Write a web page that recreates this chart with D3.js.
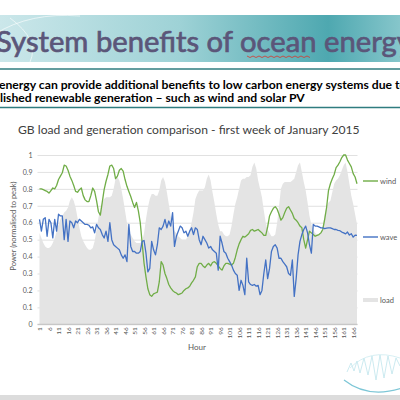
<!DOCTYPE html>
<html>
<head>
<meta charset="utf-8">
<script src="https://cdn.jsdelivr.net/npm/d3@7"></script>
<style>
  body { margin: 0; background: #fff; }
  svg { display: block; }
</style>
</head>
<body>
<svg id="slide" width="400" height="400"></svg>
<script>
// hours of the first week of January 2015
var hours = d3.range(1, 169);

// values, one row per day
var load = [
  0.54,0.51,0.48,0.46,0.45,0.45,0.46,0.48,0.51,0.55,0.59,0.62,0.64,0.66,0.67,0.69,0.73,0.75,0.73,0.69,0.63,0.57,0.52,0.49,
  0.47,0.45,0.44,0.44,0.45,0.49,0.56,0.63,0.68,0.72,0.74,0.75,0.75,0.75,0.76,0.80,0.86,0.87,0.85,0.80,0.74,0.67,0.60,0.54,
  0.53,0.51,0.49,0.48,0.48,0.48,0.49,0.54,0.62,0.69,0.74,0.77,0.77,0.76,0.76,0.79,0.85,0.87,0.84,0.78,0.71,0.64,0.58,0.55,
  0.54,0.52,0.51,0.50,0.50,0.50,0.52,0.56,0.60,0.66,0.74,0.77,0.79,0.79,0.79,0.81,0.86,0.885,0.85,0.78,0.72,0.65,0.59,0.55,
  0.55,0.53,0.52,0.52,0.53,0.58,0.65,0.71,0.75,0.80,0.85,0.86,0.86,0.87,0.87,0.88,0.93,0.955,0.92,0.85,0.80,0.75,0.67,0.60,
  0.56,0.54,0.52,0.52,0.53,0.60,0.70,0.80,0.83,0.84,0.84,0.84,0.84,0.85,0.86,0.90,0.94,0.955,0.90,0.84,0.79,0.72,0.64,0.59,
  0.56,0.54,0.53,0.53,0.54,0.58,0.65,0.70,0.72,0.73,0.78,0.83,0.85,0.86,0.88,0.91,0.94,0.955,0.90,0.83,0.76,0.71,0.65,0.59
];
var wind = [
  0.80,0.80,0.795,0.79,0.785,0.775,0.79,0.805,0.80,0.82,0.855,0.875,0.895,0.94,0.935,0.91,0.875,0.85,0.82,0.785,0.78,0.795,0.805,0.76,
  0.735,0.725,0.725,0.76,0.805,0.785,0.73,0.665,0.645,0.72,0.795,0.845,0.885,0.935,0.94,0.92,0.86,0.875,0.91,0.92,0.905,0.855,0.815,0.785,
  0.755,0.72,0.69,0.72,0.67,0.60,0.48,0.36,0.28,0.21,0.175,0.165,0.18,0.185,0.19,0.25,0.37,0.35,0.30,0.27,0.235,0.215,0.20,0.19,
  0.185,0.175,0.18,0.185,0.20,0.21,0.215,0.225,0.245,0.26,0.28,0.34,0.36,0.36,0.345,0.335,0.35,0.36,0.345,0.365,0.37,0.36,0.345,0.33,
  0.32,0.345,0.36,0.36,0.355,0.35,0.36,0.395,0.44,0.475,0.50,0.52,0.515,0.525,0.535,0.555,0.56,0.55,0.555,0.56,0.55,0.54,0.525,0.525,
  0.575,0.64,0.665,0.685,0.695,0.68,0.65,0.615,0.63,0.66,0.685,0.695,0.675,0.655,0.625,0.615,0.60,0.58,0.57,0.50,0.45,0.50,0.55,0.54,
  0.53,0.52,0.525,0.53,0.54,0.56,0.62,0.69,0.79,0.83,0.86,0.885,0.925,0.94,0.96,0.985,1.0,1.0,0.97,0.95,0.93,0.89,0.87,0.83
];
var wave = [
  0.62,0.55,0.62,0.63,0.52,0.62,0.60,0.51,0.62,0.55,0.65,0.64,0.64,0.50,0.62,0.49,0.61,0.60,0.57,0.61,0.60,0.62,0.61,0.60,
  0.59,0.59,0.585,0.57,0.575,0.54,0.59,0.57,0.56,0.53,0.51,0.55,0.49,0.60,0.50,0.47,0.46,0.45,0.44,0.41,0.39,0.41,0.37,0.59,
  0.46,0.43,0.43,0.42,0.42,0.43,0.49,0.495,0.42,0.31,0.33,0.49,0.44,0.41,0.47,0.57,0.56,0.58,0.62,0.57,0.61,0.58,0.66,0.46,
  0.52,0.55,0.58,0.57,0.54,0.55,0.52,0.55,0.57,0.53,0.57,0.56,0.50,0.47,0.52,0.50,0.48,0.45,0.46,0.44,0.43,0.42,0.32,0.52,
  0.48,0.43,0.42,0.39,0.37,0.35,0.32,0.30,0.29,0.20,0.26,0.23,0.175,0.39,0.25,0.235,0.23,0.235,0.225,0.23,0.175,0.20,0.30,0.38,
  0.27,0.33,0.43,0.46,0.47,0.45,0.39,0.39,0.37,0.355,0.34,0.30,0.29,0.38,0.165,0.27,0.41,0.49,0.53,0.56,0.58,0.54,0.47,0.42,
  0.59,0.58,0.58,0.575,0.57,0.57,0.565,0.568,0.57,0.57,0.565,0.56,0.56,0.555,0.553,0.545,0.54,0.534,0.545,0.527,0.535,0.515,0.527,0.525
];

var xTicks = d3.range(1, 167, 5);
var yTicks = [0, 0.1, 0.2, 0.3, 0.4, 0.5, 0.6, 0.7, 0.8, 0.9, 1];
var legendItems = ["wind", "wave", "load"];

var svg = d3.select("#slide");
var font = "Lato, 'Open Sans', sans-serif";

// scale a text's font size so it spans the given width
function fitWidth(sel, w) {
  var len = sel.node().getComputedTextLength();
  sel.attr("font-size", parseFloat(sel.attr("font-size")) * w / len);
}

/////////////////////////////////////////////////
// slide header
var defs = svg.append("defs");
var grad = defs.append("linearGradient").attr("id", "band");
grad.append("stop").attr("offset", "0%").attr("stop-color", "#cbe7ea");
grad.append("stop").attr("offset", "45%").attr("stop-color", "#9ed2d6");
grad.append("stop").attr("offset", "82%").attr("stop-color", "#4ea8b0");
grad.append("stop").attr("offset", "100%").attr("stop-color", "#86c6cb");

svg.append("rect")
  .attr("x", 0).attr("y", 15)
  .attr("width", 400).attr("height", 47)
  .attr("fill", "url(#band)");

// faint globe arcs
svg.append("path")
  .attr("d", "M -5,34 Q 30,12 80,16 M 10,18 Q 40,40 30,62")
  .attr("fill", "none")
  .attr("stroke", "#ffffff")
  .attr("stroke-opacity", 0.6)
  .attr("stroke-width", 1);

var head = svg.append("text")
  .attr("x", -4).attr("y", 51.5)
  .attr("font-family", font)
  .attr("font-size", 27)
  .attr("fill", "#5b5679")
  .attr("stroke", "#5b5679")
  .attr("stroke-width", 0.7)
  .text("System benefits of ocean energy");
fitWidth(head, 416);

// spell-check squiggle
svg.append("path")
  .attr("d", d3.range(247, 313, 3).map(function(x, i) {
    return (i ? "L" : "M") + x + "," + (i % 2 ? 57.5 : 56);
  }).join(" "))
  .attr("fill", "none")
  .attr("stroke", "#d9352b")
  .attr("stroke-width", 0.8);

// rule lines around the statement
svg.selectAll("line.rule")
  .data([69, 107.5])
  .enter().append("line")
  .attr("class", "rule")
  .attr("x1", 0).attr("x2", 400)
  .attr("y1", function(d) { return d; })
  .attr("y2", function(d) { return d; })
  .attr("stroke", "#2f7c7f")
  .attr("stroke-width", 1.6);

var line2 = svg.append("text")
  .attr("x", 0).attr("y", 102)
  .attr("font-family", font)
  .attr("font-weight", "bold")
  .attr("font-size", 11)
  .attr("fill", "#000")
  .text("lished renewable generation \u2013 such as wind and solar PV");
fitWidth(line2, 305);
var line1 = svg.append("text")
  .attr("x", -1).attr("y", 88.5)
  .attr("font-family", font)
  .attr("font-weight", "bold")
  .attr("font-size", line2.attr("font-size"))
  .attr("fill", "#000")
  .text("energy can provide additional benefits to low carbon energy systems due to");

/////////////////////////////////////////////////
// chart
var plot = { left: 37.5, right: 357.5, top: 155, bottom: 324.3 };

var x = d3.scaleLinear().domain([1, 168]).range([39.5, 357]);
var y = d3.scaleLinear().domain([0, 1]).range([plot.bottom, plot.top]);

var title = svg.append("text")
  .attr("x", 18).attr("y", 134)
  .attr("font-family", font)
  .attr("font-size", 12)
  .attr("fill", "#404040")
  .text("GB load and generation comparison - first week of January 2015");
fitWidth(title, 342);

// gridlines
svg.append("g")
  .attr("transform", "translate(" + plot.left + ",0)")
  .call(d3.axisLeft(y).tickValues(yTicks)
    .tickSize(-(plot.right - plot.left)).tickFormat(""))
  .call(function(g) {
    g.select(".domain").remove();
    g.selectAll("line").attr("stroke", "#d9d9d9").attr("stroke-width", 0.8);
  });

// load area
svg.append("path")
  .datum(hours)
  .attr("fill", "#e4e4e4")
  .attr("d", d3.area()
    .x(function(h) { return x(h); })
    .y0(y(0))
    .y1(function(h) { return y(load[h - 1]); }));

// wind and wave lines
var seriesLine = function(vals) {
  return d3.line()
    .x(function(h) { return x(h); })
    .y(function(h) { return y(vals[h - 1]); });
};
svg.append("path")
  .datum(hours)
  .attr("fill", "none")
  .attr("stroke", "#70ad47")
  .attr("stroke-width", 1.3)
  .attr("stroke-linejoin", "round")
  .attr("d", seriesLine(wind));
svg.append("path")
  .datum(hours)
  .attr("fill", "none")
  .attr("stroke", "#4472c4")
  .attr("stroke-width", 1.3)
  .attr("stroke-linejoin", "round")
  .attr("d", seriesLine(wave));

// y axis labels
svg.append("g")
  .attr("transform", "translate(" + plot.left + ",0)")
  .call(d3.axisLeft(y).tickValues(yTicks).tickSize(0).tickPadding(5)
    .tickFormat(function(d) { return d3.format("~g")(d); }))
  .call(function(g) {
    g.select(".domain").remove();
    g.selectAll("text")
      .attr("font-family", font)
      .attr("font-size", 7)
      .attr("fill", "#595959");
  });

// x axis
svg.append("g")
  .attr("transform", "translate(0," + plot.bottom + ")")
  .call(d3.axisBottom(x).tickValues(xTicks).tickSize(0).tickPadding(0))
  .call(function(g) {
    g.select(".domain")
      .attr("d", "M" + plot.left + ",0H" + plot.right)
      .attr("stroke", "#bfbfbf");
    g.selectAll("text")
      .attr("font-family", font)
      .attr("font-size", 6.5)
      .attr("fill", "#595959")
      .attr("text-anchor", "end")
      .attr("dy", "0.32em")
      .attr("transform", "translate(0,3) rotate(-90)")
      .attr("y", 0).attr("x", 0);
  });

svg.append("text")
  .attr("x", 197).attr("y", 350)
  .attr("text-anchor", "middle")
  .attr("font-family", font)
  .attr("font-size", 8)
  .attr("fill", "#595959")
  .text("Hour");

svg.append("text")
  .attr("transform", "translate(16,226) rotate(-90)")
  .attr("text-anchor", "middle")
  .attr("font-family", font)
  .attr("font-size", 7.5)
  .attr("fill", "#595959")
  .text("Power  (normalised to peak)");

// legend
var legendY = { wind: 181, wave: 237, load: 300 };
var legendColor = { wind: "#70ad47", wave: "#4472c4", load: "#e4e4e4" };
var lg = svg.selectAll("g.legend")
  .data(legendItems)
  .enter().append("g")
  .attr("class", "legend")
  .attr("transform", function(d) { return "translate(363," + legendY[d] + ")"; });
lg.append("rect")
  .attr("x", 0)
  .attr("y", function(d) { return d == "load" ? -2 : -0.7; })
  .attr("width", 15)
  .attr("height", function(d) { return d == "load" ? 4 : 1.4; })
  .attr("fill", function(d) { return legendColor[d]; });
lg.append("text")
  .attr("x", 17).attr("y", 2.6)
  .attr("font-family", font)
  .attr("font-size", 7.5)
  .attr("fill", "#595959")
  .text(function(d) { return d; });

/////////////////////////////////////////////////
// footer decoration
svg.append("path")
  .attr("d", "M 344,380 Q 368,399 402,388")
  .attr("fill", "none")
  .attr("stroke", "#7cc6d6")
  .attr("stroke-width", 1.2);
svg.append("path")
  .attr("d", "M 347,372 L 351,363 L 354,371 L 357,361 L 360,373 L 364,358 L 368,375 L 372,356 L 376,380 L 380,355 L 384,378 L 388,356 L 392,374 L 396,358 L 400,366")
  .attr("fill", "none")
  .attr("stroke", "#bfe5ec")
  .attr("stroke-width", 0.8);
svg.append("path")
  .attr("d", "M 350,368 Q 370,348 400,358")
  .attr("fill", "none")
  .attr("stroke", "#cdebf0")
  .attr("stroke-width", 0.8);
svg.append("rect")
  .attr("x", 0).attr("y", 395)
  .attr("width", 400).attr("height", 5)
  .attr("fill", "#dcdcdc");
</script>
</body>
</html>
